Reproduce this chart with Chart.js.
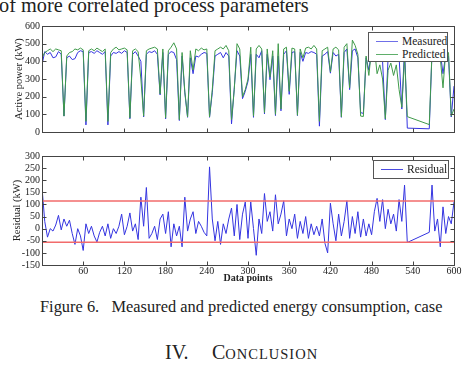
<!DOCTYPE html>
<html>
<head>
<meta charset="utf-8">
<script src="https://cdn.jsdelivr.net/npm/chart.js@4.4.1/dist/chart.umd.min.js"></script>
<style>
  html, body { margin: 0; padding: 0; background: #fff; }
  body { width: 474px; height: 382px; position: relative; overflow: hidden; font-family: 'Liberation Serif', 'Times New Roman', serif; color: #222; }
  .txt { position: absolute; white-space: pre; }
  #topText { left: -1px; top: -5px; font-size: 20.3px; line-height: 20px; }
  #caption { left: 40px; top: 298px; font-size: 16.4px; line-height: 17px; }
  #secNum { left: 165px; top: 342px; font-size: 20px; line-height: 20px; }
  #secName { left: 212px; top: 342px; font-size: 20px; line-height: 20px; }
  #secName .sc { font-size: 14.5px; letter-spacing: 1px; }
  .box { position: absolute; }
  #powerBox { left: 0; top: 0; width: 474px; height: 140px; }
  #residBox { left: 0; top: 140px; width: 474px; height: 145px; }
  .legend { position: absolute; background: #fff; border: 1px solid #555; font-size: 11.5px; }
  .legend div { position: relative; height: 13px; line-height: 13px; padding-left: 33px; }
  .legend span { position: absolute; left: 7px; top: 6px; width: 22px; height: 0; border-top: 1px solid; }
  #legendTop { left: 368px; top: 32px; width: 80px; height: 30px; padding-top: 2px; box-sizing: border-box; }
  #legendBottom { left: 373px; top: 160px; width: 76px; height: 19px; padding-top: 2px; box-sizing: border-box; }
</style>
</head>
<body>
<div class="txt" id="topText">of more correlated process parameters</div>

<div class="box" id="powerBox"><canvas id="powerChart"></canvas></div>
<div class="box" id="residBox"><canvas id="residChart"></canvas></div>

<div class="legend" id="legendTop">
  <div><span style="border-color:#6f6fe8"></span>Measured</div>
  <div><span style="border-color:#5fae6a"></span>Predicted</div>
</div>
<div class="legend" id="legendBottom">
  <div><span style="border-color:#4a4ae0"></span>Residual</div>
</div>

<div class="txt" id="caption">Figure 6.   Measured and predicted energy consumption, case</div>
<div class="txt" id="secNum">IV.</div>
<div class="txt" id="secName">C<span class="sc">ONCLUSION</span></div>

<script>
// sample positions (data point index), gap between 532 and 564 in the source
const dataPoints = [
  0, 4, 8, 12, 16, 20, 24, 28, 32, 36,
  40, 44, 48, 52, 56, 60, 64, 68, 72, 76,
  80, 84, 88, 92, 96, 100, 104, 108, 112, 116,
  120, 124, 128, 132, 136, 140, 144, 148, 152, 156,
  160, 164, 168, 172, 176, 180, 184, 188, 192, 196,
  200, 204, 208, 212, 216, 220, 224, 228, 232, 236,
  240, 244, 248, 252, 256, 260, 264, 268, 272, 276,
  280, 284, 288, 292, 296, 300, 304, 308, 312, 316,
  320, 324, 328, 332, 336, 340, 344, 348, 352, 356,
  360, 364, 368, 372, 376, 380, 384, 388, 392, 396,
  400, 404, 408, 412, 416, 420, 424, 428, 432, 436,
  440, 444, 448, 452, 456, 460, 464, 468, 472, 476,
  480, 484, 488, 492, 496, 500, 504, 508, 512, 516,
  520, 524, 528, 532, 564, 568, 572, 576, 580, 584,
  588, 592, 596, 600
];

const measured = [
  380, 455, 440, 450, 420, 425, 455, 440, 90, 420,
  430, 410, 415, 450, 460, 455, 40, 450, 455, 445,
  460, 450, 440, 455, 40, 430, 450, 445, 455, 445,
  460, 450, 75, 440, 455, 430, 400, 85, 440, 455,
  450, 460, 440, 210, 450, 74, 440, 455, 450, 410,
  65, 430, 222, 83, 420, 330, 430, 425, 440, 450,
  445, 83, 222, 430, 440, 450, 420, 450, 430, 46,
  250, 460, 430, 189, 230, 287, 440, 83, 440, 420,
  460, 102, 440, 296, 430, 93, 430, 120, 440, 460,
  213, 450, 455, 93, 450, 400, 450, 445, 455, 450,
  440, 33, 430, 440, 455, 333, 450, 430, 440, 83,
  450, 470, 240, 460, 470, 420, 110, 105, 420, 350,
  460, 450, 440, 430, 400, 70, 420, 430, 440, 450,
  430, 130, 480, 22, 18, 450, 460, 470, 450, 330,
  440, 430, 85, 260
];

const predicted = [
  420, 450, 460, 470, 455, 470, 465, 460, 90, 430,
  450, 455, 470, 465, 475, 465, 60, 460, 470, 460,
  475, 465, 455, 470, 60, 450, 470, 480, 465, 470,
  475, 465, 80, 460, 470, 455, 300, 90, 460, 470,
  475, 480, 470, 215, 470, 80, 460, 480, 505, 470,
  70, 450, 230, 85, 460, 350, 470, 460, 475, 465,
  470, 85, 240, 460, 470, 480, 470, 490, 460, 70,
  240, 500, 470, 200, 240, 300, 480, 90, 470, 490,
  470, 110, 470, 310, 460, 100, 500, 130, 470, 480,
  230, 475, 470, 95, 470, 420, 475, 480, 470, 490,
  470, 60, 460, 470, 480, 340, 470, 480, 465, 85,
  480, 500, 250, 520, 490, 440, 90, 88, 430, 320,
  470, 480, 330, 380, 300, 75, 350, 390, 320, 380,
  240, 140, 420, 87, 42, 460, 470, 480, 420, 250,
  460, 450, 90, 130
];

const residual = [
  170, 30, -35, 0, -10, 15, 55, -5, 40, 10,
  35, -20, -65, 0, -30, -90, 20, -20, 10, -30,
  -55, -15, 10, -30, 20, -40, 0, -20, 10, 60,
  -25, 10, 65, -10, 20, -45, 130, 10, 170, -40,
  -20, 10, -45, 40, 60, -20, 70, -75, 20, -30,
  10, -75, 130, -10, 40, 70, -20, 30, 10, -15,
  -30, 255, 40, -50, 30, -65, 20, -20, 40, 85,
  -30, 100, -45, 60, 110, -40, 110, 0, -110, 40,
  -20, 145, 30, 70, -10, 140, 20, 60, 115, -30,
  40, 0, 60, -40, 30, -20, 50, -40, 20, -25,
  10, -30, 40, -60, -100, 105, 20, -50, 60, -30,
  30, 115, -40, 50, -20, 70, -35, 40, -30, 20,
  -25, 70, 125, 30, 120, 0, 80, 20, 60, -10,
  120, 30, 180, -57, -15, 180, -10, 40, -75, 90,
  -20, 50, 20, 110
];

// red limit lines on the residual plot
const limits = [114, -56];

const xTickLabels = [60, 120, 180, 240, 300, 360, 420, 480, 540, 600];
const powerTicks = [0, 100, 200, 300, 400, 500, 600];
const residTicks = [-150, -100, -50, 0, 50, 100, 150, 200, 250, 300];

const FONT = "'Liberation Serif', 'Times New Roman', serif";

function pts(values) {
  return dataPoints.map((x, i) => ({ x: x, y: values[i] }));
}

// matplotlib style frame with inward ticks
const frameTicks = {
  id: 'frameTicks',
  afterDatasetsDraw(chart) {
    const { ctx, chartArea: a, scales } = chart;
    const L = Math.round(a.left) + 0.5, R = Math.round(a.right) + 0.5;
    const T = Math.round(a.top) + 0.5, B = Math.round(a.bottom) + 0.5;
    ctx.save();
    ctx.strokeStyle = '#444';
    ctx.lineWidth = 1;
    ctx.beginPath();
    scales.x.ticks.forEach(t => {
      const px = Math.round(scales.x.getPixelForValue(t.value)) + 0.5;
      ctx.moveTo(px, B); ctx.lineTo(px, B - 4);
      ctx.moveTo(px, T); ctx.lineTo(px, T + 4);
    });
    scales.y.ticks.forEach(t => {
      const py = Math.round(scales.y.getPixelForValue(t.value)) + 0.5;
      ctx.moveTo(L, py); ctx.lineTo(L + 4, py);
      ctx.moveTo(R, py); ctx.lineTo(R - 4, py);
    });
    ctx.stroke();
    ctx.strokeRect(L, T, R - L, B - T);
    ctx.restore();
  }
};

function makeChart(id, datasets, cfg) {
  return new Chart(document.getElementById(id), {
    type: 'line',
    data: { datasets: datasets },
    options: {
      responsive: true,
      maintainAspectRatio: false,
      animation: false,
      layout: { padding: { top: cfg.padTop, right: 20, left: 0, bottom: 0 } },
      plugins: { legend: { display: false }, tooltip: { enabled: false } },
      elements: { point: { radius: 0 }, line: { tension: 0 } },
      scales: {
        x: {
          type: 'linear', min: 0, max: 600,
          afterFit: s => { s.height = cfg.xHeight; },
          grid: { display: false, drawTicks: false },
          border: { display: false },
          ticks: {
            display: cfg.xLabels, stepSize: 60, padding: 0, maxRotation: 0, autoSkip: false,
            color: '#222', font: { family: FONT, size: 10 },
            callback: v => xTickLabels.includes(v) ? String(v) : ''
          },
          title: {
            display: cfg.xLabels, text: 'Data points', color: '#222',
            font: { family: FONT, size: 10, weight: 'bold' }, padding: { top: 0, bottom: 1 }
          }
        },
        y: {
          min: cfg.ticks[0], max: cfg.ticks[cfg.ticks.length - 1],
          afterFit: s => { s.width = 42; },
          afterBuildTicks: s => { s.ticks = cfg.ticks.map(v => ({ value: v })); },
          grid: { display: false, drawTicks: false },
          border: { display: false },
          ticks: { padding: 2, autoSkip: false, color: '#222', font: { family: FONT, size: 10 } },
          title: {
            display: true, text: cfg.yTitle, color: '#222',
            font: { family: FONT, size: 10.5 }, padding: { top: cfg.titlePad, bottom: 0 }
          }
        }
      }
    },
    plugins: [frameTicks]
  });
}

makeChart('powerChart', [
  { label: 'Predicted', data: pts(predicted), borderColor: '#3f9a4a', borderWidth: 1 },
  { label: 'Measured', data: pts(measured), borderColor: '#3434e0', borderWidth: 1 }
], { padTop: 26, xHeight: 6, xLabels: false, ticks: powerTicks, yTitle: 'Active power (kW)', titlePad: 13 });

makeChart('residChart', [
  ...limits.map(v => ({
    label: 'limit', data: [{ x: 0, y: v }, { x: 600, y: v }],
    borderColor: '#f26b6b', borderWidth: 1.5
  })),
  { label: 'Residual', data: pts(residual), borderColor: '#3434e0', borderWidth: 1 }
], { padTop: 16, xHeight: 20, xLabels: true, ticks: residTicks, yTitle: 'Residual (kW)', titlePad: 11 });
</script>
</body>
</html>
